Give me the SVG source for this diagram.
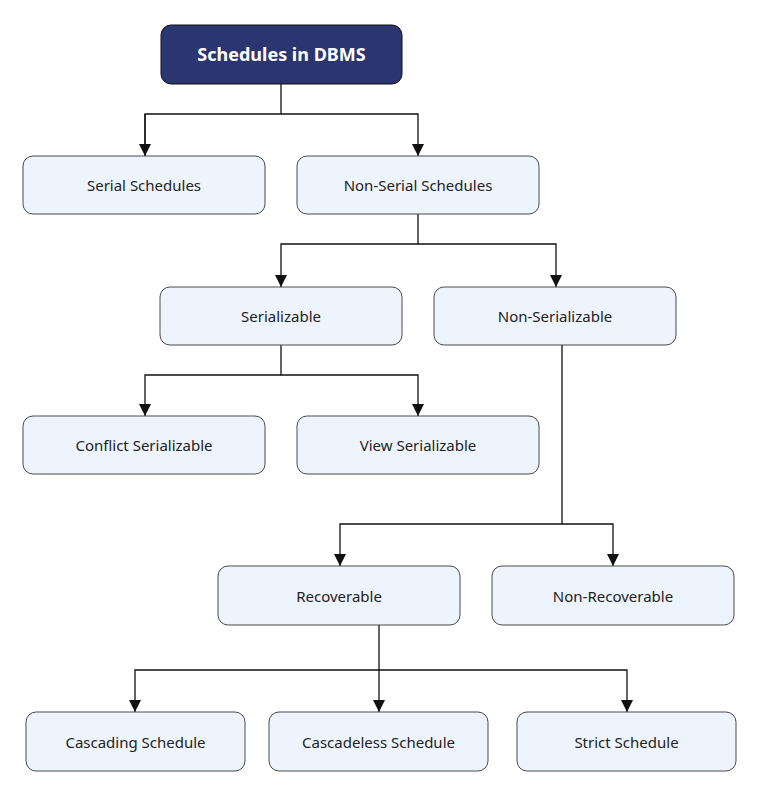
<svg xmlns="http://www.w3.org/2000/svg" width="757" height="793" viewBox="0 0 757 793">
<style>
.n rect{fill:#eef4fd;stroke:#4a4a4a;stroke-width:1}
.n text{font-family:"Noto Sans",sans-serif;font-size:15px;fill:#222;text-anchor:middle;dominant-baseline:central}
.c path{fill:none;stroke:#111;stroke-width:1.3}
</style>
<defs><marker id="a" markerWidth="12" markerHeight="12" refX="6" refY="11" orient="auto" markerUnits="userSpaceOnUse"><path d="M0,0 L12,0 L6,12 Z" transform="translate(0,0)" fill="#111"/></marker>
<marker id="d" viewBox="0 0 12 12" markerWidth="12" markerHeight="12" refX="6" refY="12" orient="0" markerUnits="userSpaceOnUse"><path d="M0,0 L12,0 L6,12 Z" fill="#111"/></marker></defs>
<rect width="757" height="793" fill="#fff"/>
<g class="c">
<path d="M281,84V114H145V156M281,114H418V156" marker-end="url(#d)"/>
<path d="M145,114V156" marker-end="url(#d)"/>
<path d="M418,214V244H281V287" marker-end="url(#d)"/>
<path d="M418,244H556V287" marker-end="url(#d)"/>
<path d="M281,345V375H145V416" marker-end="url(#d)"/>
<path d="M281,375H418V416" marker-end="url(#d)"/>
<path d="M562,345V524H340V566" marker-end="url(#d)"/>
<path d="M562,524H613V566" marker-end="url(#d)"/>
<path d="M379,625V670H135V712" marker-end="url(#d)"/>
<path d="M379,670V712" marker-end="url(#d)"/>
<path d="M379,670H627V712" marker-end="url(#d)"/>
</g>
<g id="root" class="n"><rect x="161" y="25" width="241" height="59" rx="10" style="fill:#2b3570;stroke:#111"/><text x="281.5" y="54" style="fill:#fff;font-weight:bold;font-size:18px">Schedules in DBMS</text></g>
<g id="serial" class="n"><rect x="23" y="156" width="242" height="58" rx="10"/><text x="144" y="185">Serial Schedules</text></g>
<g id="nonserial" class="n"><rect x="297" y="156" width="242" height="58" rx="10"/><text x="418" y="185">Non-Serial Schedules</text></g>
<g id="serializable" class="n"><rect x="160" y="287" width="242" height="58" rx="10"/><text x="281" y="316">Serializable</text></g>
<g id="nonserializable" class="n"><rect x="434" y="287" width="242" height="58" rx="10"/><text x="555" y="316">Non-Serializable</text></g>
<g id="conflict" class="n"><rect x="23" y="416" width="242" height="58" rx="10"/><text x="144" y="445">Conflict Serializable</text></g>
<g id="view" class="n"><rect x="297" y="416" width="242" height="58" rx="10"/><text x="418" y="445">View Serializable</text></g>
<g id="recoverable" class="n"><rect x="218" y="566" width="242" height="59" rx="10"/><text x="339" y="595.5">Recoverable</text></g>
<g id="nonrecoverable" class="n"><rect x="492" y="566" width="242" height="59" rx="10"/><text x="613" y="595.5">Non-Recoverable</text></g>
<g id="cascading" class="n"><rect x="26" y="712" width="219" height="59" rx="10"/><text x="135.5" y="741.5">Cascading Schedule</text></g>
<g id="cascadeless" class="n"><rect x="269" y="712" width="219" height="59" rx="10"/><text x="378.5" y="741.5">Cascadeless Schedule</text></g>
<g id="strict" class="n"><rect x="517" y="712" width="219" height="59" rx="10"/><text x="626.5" y="741.5">Strict Schedule</text></g>
</svg>
